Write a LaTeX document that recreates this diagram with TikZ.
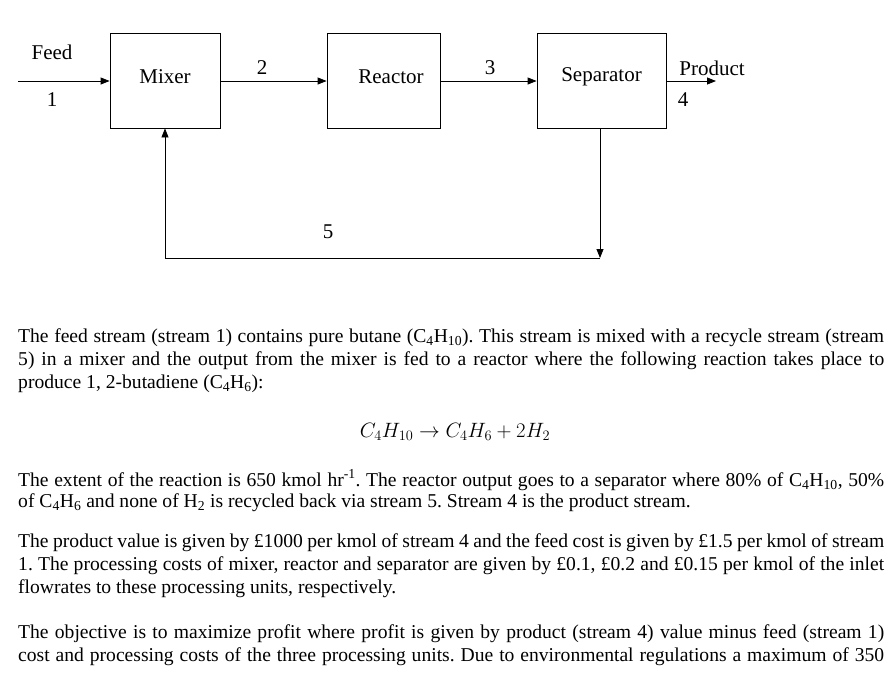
\documentclass[tikz,border=0pt]{standalone}
\usepackage{fontspec}
\setmainfont{Liberation Serif}
\usetikzlibrary{arrows.meta}
\frenchspacing
\begin{document}
\begin{tikzpicture}[x=1pt,y=-1pt,
  box/.style={draw,line width=0.8pt,minimum width=#1,minimum height=95pt},
  lbl/.style={font=\fontsize{21}{24}\selectfont},
  arr/.style={line width=0.8pt,-{Triangle[length=9pt,width=7pt]}},
  last/.style={anchor=west,inner sep=0pt,font=\fontsize{19.6}{24}\selectfont}]
\useasboundingbox (0,0) rectangle (894,683);
\node[box=110pt] (mix) at (165,80.5) {};
\node[box=113pt] (rea) at (383.5,80.5) {};
\node[box=129pt] (sep) at (601.5,80.5) {};
\node[lbl] (mixl) at (165,77) {Mixer};
\node[lbl] (real) at (391,77) {Reactor};
\node[lbl] (sepl) at (601.5,77) {Separator};
\coordinate (fin) at (18,81);
\coordinate (pout) at (716,81);
\coordinate (r1) at (600,258);
\coordinate (r2) at (165,258);
\draw[arr] (fin) -- (mix.west|-fin);
\draw[arr] (mix.east|-fin) -- (rea.west|-fin);
\draw[arr] (rea.east|-fin) -- (sep.west|-fin);
\draw[arr] (sep.east|-pout) -- (pout);
\draw[arr] (sep.south-|r1) -- (r1);
\draw[arr] (r1) -- (r2) -- (mix.south-|r2);
\node[lbl] (l1) at (52,52) {Feed};
\node[lbl] (l2) at (52,100) {1};
\node[lbl] (l3) at (262,68) {2};
\node[lbl] (l4) at (490,68) {3};
\node[lbl] (l5) at (712,68) {Product};
\node[lbl] (l6) at (683,100) {4};
\node[lbl] (l7) at (328,232) {5};
\def\J#1{\makebox[866pt][s]{#1}}
\node[last] (t1) at (18,338) {\J{The feed stream (stream 1) contains pure butane (C\textsubscript{4}H\textsubscript{10}). This stream is mixed with a recycle stream (stream}};
\node[last] (t2) at (18,361) {\J{5) in a mixer and the output from the mixer is fed to a reactor where the following reaction takes place to}};
\node[last] (t3) at (18,384) {produce 1, 2-butadiene (C\textsubscript{4}H\textsubscript{6}):};
\node[font=\fontsize{20}{24}\selectfont] (eq) at (455,432) {$C_4H_{10}\rightarrow C_4H_6+2H_2$};
\node[last] (t4) at (18,480) {\J{The extent of the reaction is 650 kmol hr\textsuperscript{-1}. The reactor output goes to a separator where 80\% of C\textsubscript{4}H\textsubscript{10}, 50\%}};
\node[last] (t5) at (18,503) {of C\textsubscript{4}H\textsubscript{6} and none of H\textsubscript{2} is recycled back via stream 5. Stream 4 is the product stream.};
\node[last] (t6) at (18,543) {\J{The product value is given by £1000 per kmol of stream 4 and the feed cost is given by £1.5 per kmol of stream}};
\node[last] (t7) at (18,566) {\J{1. The processing costs of mixer, reactor and separator are given by £0.1, £0.2 and £0.15 per kmol of the inlet}};
\node[last] (t8) at (18,589) {flowrates to these processing units, respectively.};
\node[last] (t9) at (18,634) {\J{The objective is to maximize profit where profit is given by product (stream 4) value minus feed (stream 1)}};
\node[last] (t10) at (18,657) {\J{cost and processing costs of the three processing units. Due to environmental regulations a maximum of 350}};
\end{tikzpicture}
\end{document}
